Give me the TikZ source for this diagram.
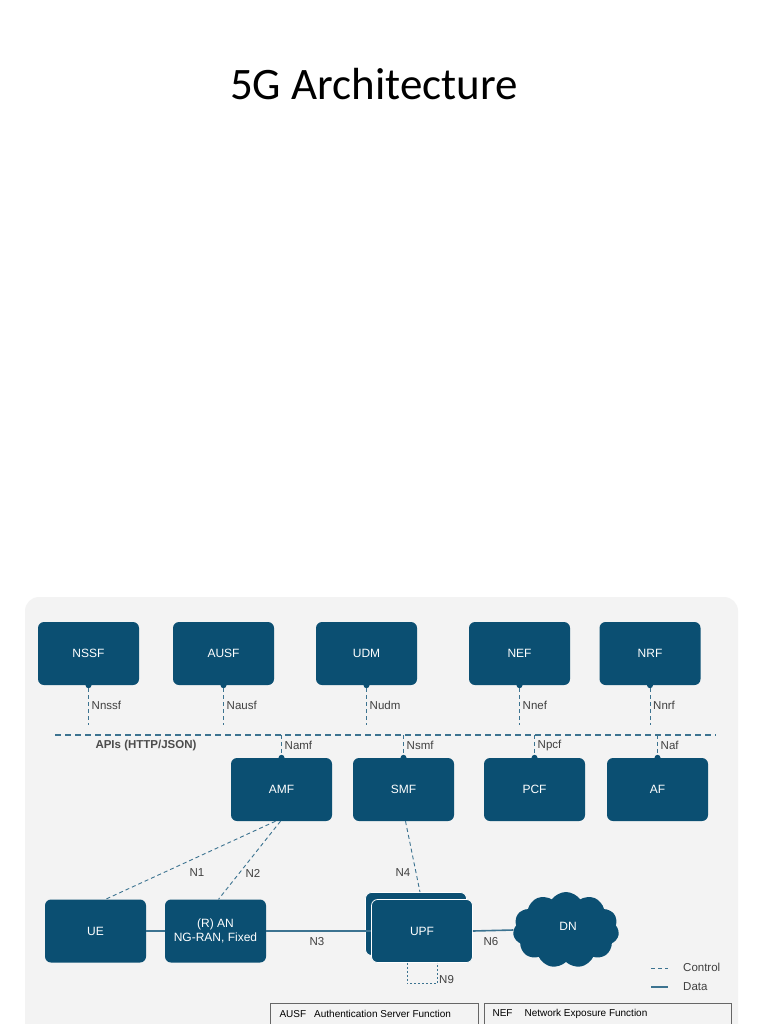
\documentclass[tikz,border=0pt]{standalone}
\usepackage{fontspec}
\setmainfont{Liberation Sans}
\newfontfamily\titlefont{Carlito}
\usetikzlibrary{shapes.symbols}
\definecolor{nfblue}{HTML}{0B4F72}
\definecolor{bgg}{HTML}{F3F3F3}
\definecolor{lnc}{HTML}{3C7390}
\begin{document}
\begin{tikzpicture}[x=1pt,y=-1pt,
  nf/.style={fill=nfblue,rounded corners=6pt,minimum width=101pt,minimum height=63pt,text=white,font=\fontsize{12}{14}\selectfont,align=center,inner sep=0pt},
  ctl/.style={draw=lnc,dash pattern=on 4pt off 3pt,line width=0.9pt},
  dat/.style={draw=lnc,line width=1.6pt},
  lbl/.style={font=\fontsize{11.5}{13}\selectfont,text=black!75,inner sep=1pt},
  dot/.style={circle,fill=nfblue,inner sep=0pt,minimum size=6pt}]
\useasboundingbox (0,0) rectangle (768,1024);
\fill[white] (0,0) rectangle (768,1024);
\node[font=\titlefont\fontsize{45}{50}\selectfont] (title) at (374,84) {5G Architecture};
\fill[bgg,rounded corners=14pt] (25,597) rectangle (738,1040);
% top row
\foreach \n/\x/\t in {nssf/88.5/NSSF,ausf/223.5/AUSF,udm/366.5/UDM,nef/519.5/NEF,nrf/650/NRF}{
  \node[nf] (\n) at (\x,653.5) {\t};
  \node[dot] (\n d) at (\n.south) {};
  \coordinate (\n e) at ([yshift=-40pt]\n.south);
  \draw[ctl] (\n d) -- (\n e);
}
\node[lbl,anchor=west] at ([xshift=2pt,yshift=-20pt]nssf.south) {Nnssf};
\node[lbl,anchor=west] at ([xshift=2pt,yshift=-20pt]ausf.south) {Nausf};
\node[lbl,anchor=west] at ([xshift=2pt,yshift=-20pt]udm.south) {Nudm};
\node[lbl,anchor=west] at ([xshift=2pt,yshift=-20pt]nef.south) {Nnef};
\node[lbl,anchor=west] at ([xshift=2pt,yshift=-20pt]nrf.south) {Nnrf};
% bus
\coordinate (busl) at (55,735); \coordinate (busr) at (716,735);
\draw[draw=lnc,line width=1.2pt,dash pattern=on 6pt off 4pt] (busl) -- (busr);
\node[font=\bfseries\fontsize{11.5}{13}\selectfont,text=black!70] (api) at (146,746) {APIs (HTTP/JSON)};
% middle row
\foreach \n/\x/\t/\l in {amf/281.5/AMF/Namf,smf/403.5/SMF/Nsmf,pcf/534.5/PCF/Npcf,af/657.5/AF/Naf}{
  \node[nf] (\n) at (\x,789.5) {\t};
  \coordinate (\n b) at ([yshift=23pt]\n.north);
  \node[dot] (\n d) at (\n.north) {};
  \draw[ctl] (\n b) -- (\n d);
  \node[lbl,anchor=west] at ([xshift=2pt,yshift=12pt]\n.north) {\l};
}
% bottom row
\node[nf] (ue) at (95.5,931) {UE};
\node[nf] (ran) at (215.5,931) {(R) AN\\NG-RAN, Fixed};
\node[nf,draw=white,line width=0.8pt] (upfb) at (416,924) {};
\node[nf,draw=white,line width=0.8pt] (upf) at (422,931) {UPF};
\node[cloud,cloud puffs=11,cloud puff arc=110,aspect=1.5,fill=nfblue,minimum width=106pt,minimum height=76pt] (dn) at (566,930) {};
\node[text=white,font=\fontsize{12}{14}\selectfont] (dnl) at (568,926) {DN};
\draw[dat] (ue) -- (ran);
\draw[dat] (ran.east) -- (upf.west);
\draw[dat] (upf.east) -- (dn.west);
\node[lbl] (n3) at (317,942) {N3};
\node[lbl] (n6) at (491,942) {N6};
% control links
\draw[ctl] ([xshift=-6pt]amf.south) -- ([xshift=10pt]ue.north);
\draw[ctl] ([xshift=-1pt]amf.south) -- ([xshift=3pt]ran.north);
\draw[ctl] ([xshift=2pt]smf.south) -- ([xshift=4pt]upfb.north);
\node[lbl] (n1) at (197,873) {N1};
\node[lbl] (n2) at (253,873) {N2};
\node[lbl] (n4) at (403,873) {N4};
\coordinate (n9a) at ([xshift=-15pt]upf.south);
\coordinate (n9b) at ([xshift=-15pt,yshift=-21pt]upf.south);
\coordinate (n9c) at ([xshift=15pt,yshift=-21pt]upf.south);
\coordinate (n9d) at ([xshift=15pt]upf.south);
\draw[draw=lnc,line width=0.9pt,dash pattern=on 2pt off 2pt] (n9a) -- (n9b) -- (n9c) -- (n9d);
\node[lbl,anchor=west] (n9) at (438,980) {N9};
% legend
\coordinate (lc1) at (651,968); \coordinate (lc2) at (668,968);
\draw[ctl] (lc1) -- (lc2);
\node[lbl,anchor=west] (lcon) at (682,967) {Control};
\coordinate (ld1) at (651,987); \coordinate (ld2) at (668,987);
\draw[dat] (ld1) -- (ld2);
\node[lbl,anchor=west] (ldat) at (682,987) {Data};
% glossary
\draw[black!60,line width=0.8pt] (270,1040) -- (270,1003) -- (478,1003) -- (478,1040);
\draw[black!60,line width=0.8pt] (484,1040) -- (484,1003) -- (731,1003) -- (731,1040);
\node[font=\fontsize{10}{12}\selectfont,anchor=west] (g1) at (276,1014) {AUSF\hspace{8pt}Authentication Server Function};
\node[font=\fontsize{10}{12}\selectfont,anchor=west] (g2) at (489,1014) {NEF\hspace{12pt}Network Exposure Function};
\end{tikzpicture}
\end{document}
